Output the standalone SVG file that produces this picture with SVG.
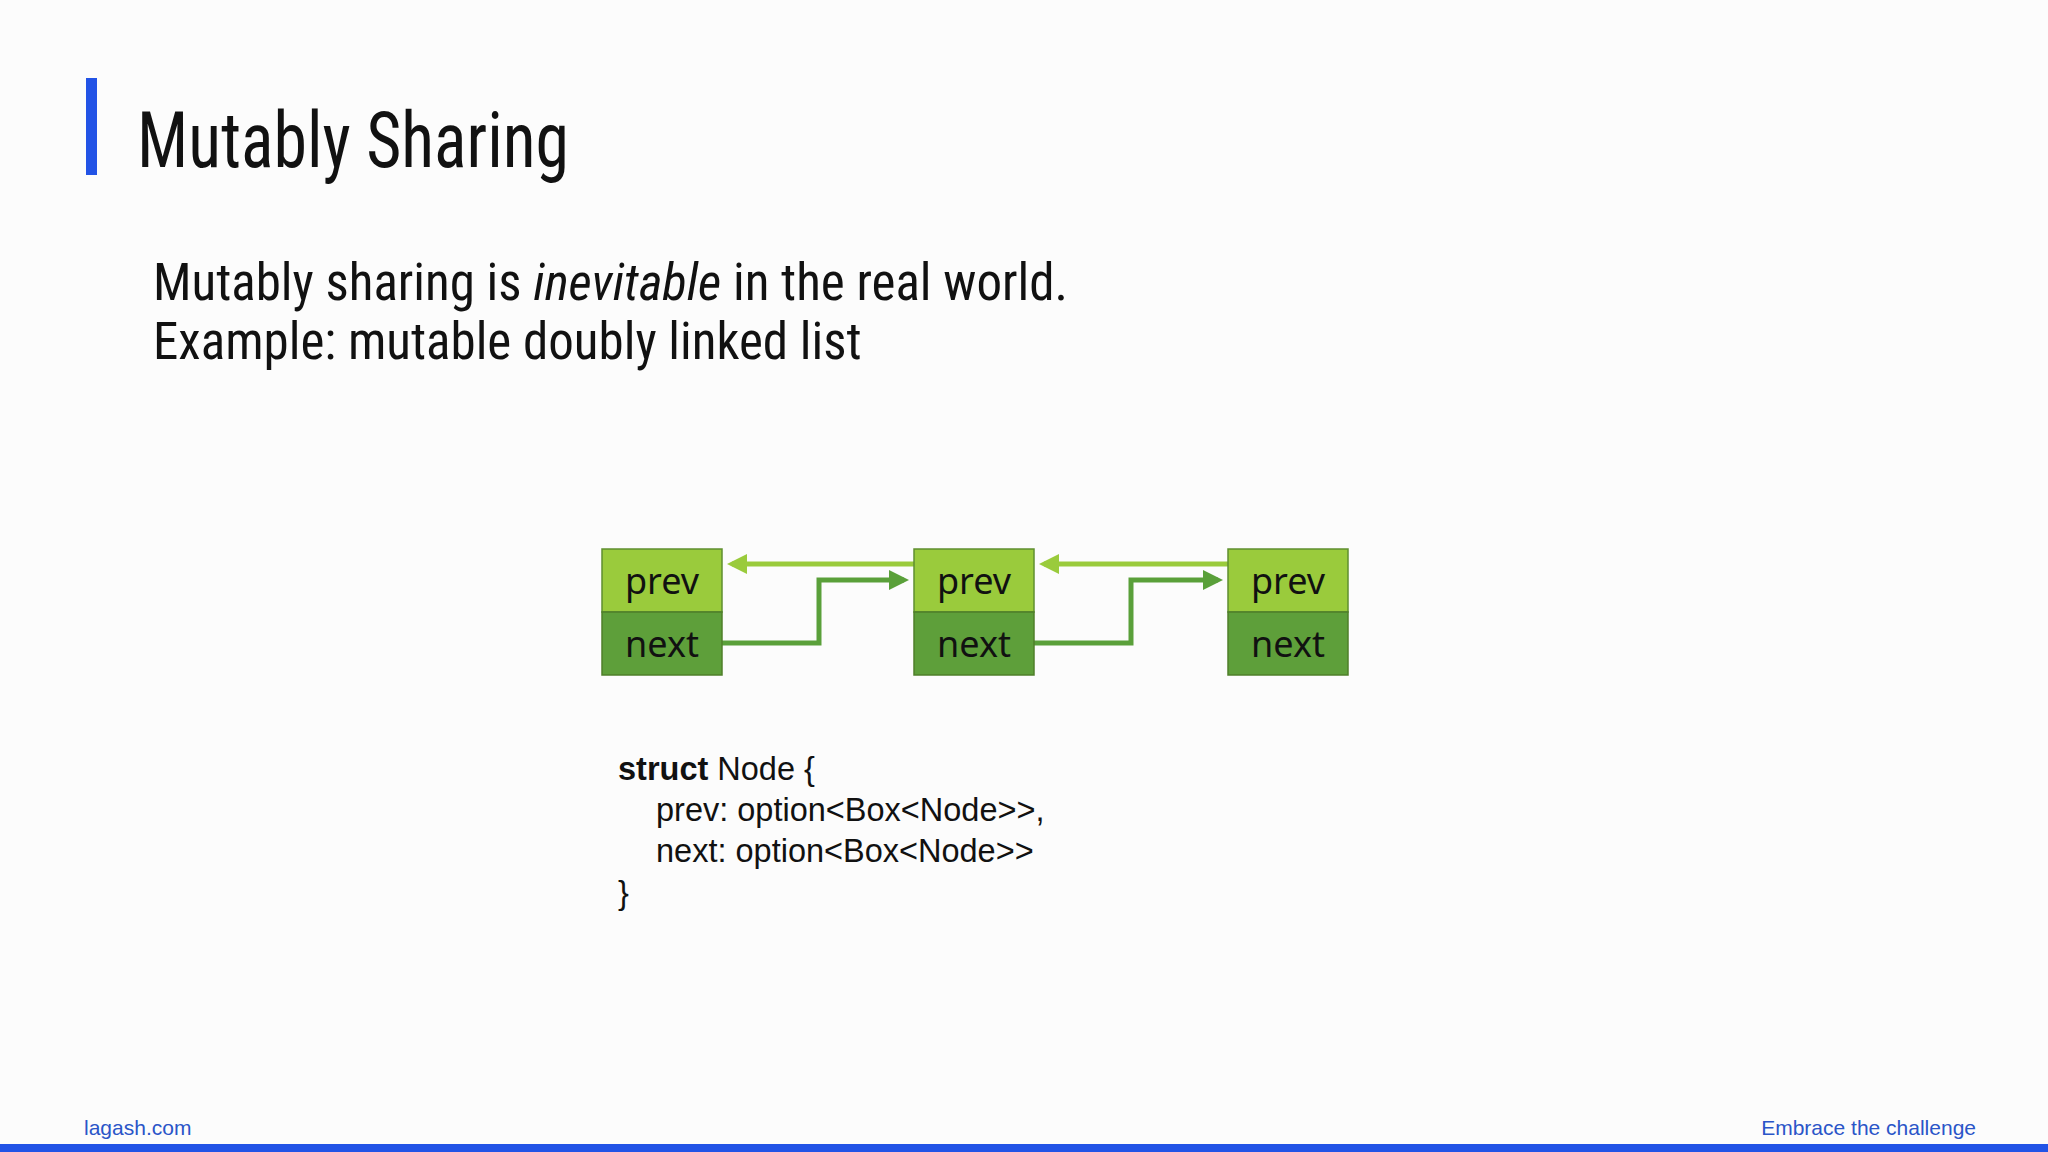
<svg xmlns="http://www.w3.org/2000/svg" width="2048" height="1152" viewBox="0 0 2048 1152">
<defs>
<style>
.hd{font-family:"Liberation Sans Narrow","Roboto Condensed","Liberation Sans",sans-serif;fill:#111}
.nt{font-family:"Noto Sans","Open Sans",sans-serif;font-size:36px;fill:#111;text-anchor:middle}
.cd{font-family:"Liberation Sans",Arial,sans-serif;font-size:32.5px;fill:#111}
.ft{font-family:"Liberation Sans",Arial,sans-serif;font-size:21px;fill:#2a55c8}
.prev{fill:#9acb3c;stroke:#5f8f2f;stroke-width:1.5}
.next{fill:#5e9f3a;stroke:#4f7f2a;stroke-width:1.5}
.la{fill:none;stroke:#9acb3c;stroke-width:5}
.da{fill:none;stroke:#5aa03a;stroke-width:5}
</style>
<marker id="ml" markerWidth="4" markerHeight="4" refX="3" refY="2" orient="auto"><path d="M0,0L4,2L0,4z" fill="#9acb3c"/></marker>
<marker id="md" markerWidth="4" markerHeight="4" refX="3" refY="2" orient="auto"><path d="M0,0L4,2L0,4z" fill="#5aa03a"/></marker>
</defs>
<rect width="2048" height="1152" fill="#fcfcfc"/>
<rect x="86" y="78" width="11" height="97" fill="#2253e6"/>
<text class="hd" x="137" y="167" font-size="78" textLength="432" lengthAdjust="spacingAndGlyphs">Mutably Sharing</text>
<text class="hd" x="153" y="300" font-size="51">Mutably sharing is <tspan font-style="italic">inevitable</tspan> in the real world.</text>
<text class="hd" x="153" y="359" font-size="51">Example: mutable doubly linked list</text>
<g id="connectors">
<path class="la" d="M914,564H732" marker-end="url(#ml)"/>
<path class="la" d="M1228,564H1044" marker-end="url(#ml)"/>
<path class="da" d="M722,643H819V580H904" marker-end="url(#md)"/>
<path class="da" d="M1034,643H1131V580H1218" marker-end="url(#md)"/>
</g>
<g id="node1"><rect class="prev" x="602" y="549" width="120" height="63"/><rect class="next" x="602" y="612" width="120" height="63"/><text class="nt" x="662" y="594">prev</text><text class="nt" x="662" y="657">next</text></g>
<g id="node2"><rect class="prev" x="914" y="549" width="120" height="63"/><rect class="next" x="914" y="612" width="120" height="63"/><text class="nt" x="974" y="594">prev</text><text class="nt" x="974" y="657">next</text></g>
<g id="node3"><rect class="prev" x="1228" y="549" width="120" height="63"/><rect class="next" x="1228" y="612" width="120" height="63"/><text class="nt" x="1288" y="594">prev</text><text class="nt" x="1288" y="657">next</text></g>
<text class="cd" x="618" y="780"><tspan font-weight="bold">struct</tspan> Node {</text>
<text class="cd" x="656" y="821">prev: option&lt;Box&lt;Node&gt;&gt;,</text>
<text class="cd" x="656" y="862">next: option&lt;Box&lt;Node&gt;&gt;</text>
<text class="cd" x="618" y="904">}</text>
<text class="ft" x="84" y="1135">lagash.com</text>
<text class="ft" x="1976" y="1135" text-anchor="end">Embrace the challenge</text>
<rect x="0" y="1144" width="2048" height="8" fill="#2253e6"/>
</svg>
